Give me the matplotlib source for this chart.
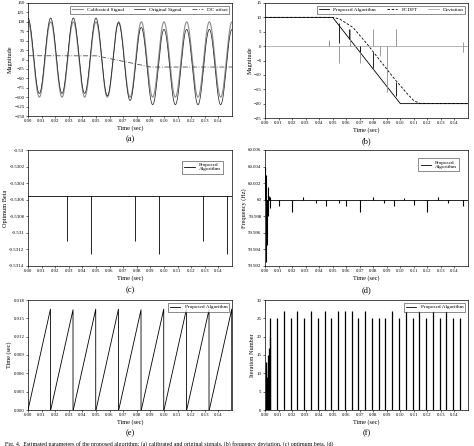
import matplotlib
matplotlib.use("Agg")
import matplotlib.pyplot as plt
import numpy as np

plt.rcParams['font.family'] = 'Liberation Serif'
plt.rcParams['font.size'] = 3.5

# (a) signal parameters
freq_hz = 60.0
amp_a = 100.0
dc_t = [0.00, 0.05, 0.09, 0.15]
dc_v = [10.0, 10.0, -20.0, -20.0]

# (b) frequency-step estimates
prop_t = [0.00, 0.05, 0.10, 0.15]
prop_v = [10, 10, -20, -20]
fcdft_t = [0.00, 0.05, 0.055, 0.065, 0.075, 0.085, 0.095, 0.105, 0.110, 0.115, 0.15]
fcdft_v = [10, 10, 9.5, 6.5, 1.0, -5.0, -11.0, -16.5, -19.0, -20, -20]
dev_t = [0.047, 0.047, 0.055, 0.063, 0.070, 0.080, 0.085, 0.090, 0.097, 0.146, 0.146]
dev_v = [2.0, 1.5, -6.0, 6.0, -6.0, 6.0, -3.5, -16.0, 6.0, 1.5, -2.0]
gap_t = [0.055, 0.062, 0.070, 0.080, 0.097]
gap_lo = [1.0, 2.5, -2.0, -7.5, -17.5]
gap_hi = [8.0, 6.0, 0.0, -2.0, -12.5]

# (c) optimum beta
beta_base = -0.53055
beta_t = [0.029, 0.046, 0.079, 0.096, 0.129, 0.146]
beta_v = [-0.5311, -0.53125, -0.5311, -0.53125, -0.5311, -0.53125]

# (d) frequency estimate
f_t = [0.000, 0.0005, 0.001, 0.0015, 0.002, 0.0025, 0.003, 0.0035, 0.004, 0.010, 0.020,
       0.028, 0.038, 0.045, 0.055, 0.060, 0.070, 0.080, 0.088, 0.095, 0.103, 0.110, 0.120,
       0.128, 0.135, 0.146]
f_v = [60.004, 59.9925, 60.003, 59.9945, 60.0015, 59.998, 60.0005, 59.999, 60.0003,
       59.9993, 59.9985, 60.0003, 59.9996, 59.9993, 59.9996, 59.9993, 59.9985, 60.0003,
       59.9996, 59.9993, 60.0002, 59.9994, 59.9985, 60.0003, 59.9996, 59.9993]

# (e) window time
reset_t = [0.0, 0.0167, 0.0333, 0.05, 0.0667, 0.0833, 0.1, 0.1167, 0.1333, 0.15]
win_peak = 0.0165

# (f) iteration number
it_t = [0.0005, 0.001, 0.0015, 0.002, 0.0025, 0.003, 0.0035, 0.004, 0.009, 0.014, 0.019,
        0.024, 0.029, 0.034, 0.039, 0.044, 0.049, 0.054, 0.059, 0.064, 0.069, 0.074, 0.079,
        0.084, 0.089, 0.094, 0.099, 0.104, 0.109, 0.114, 0.119, 0.124, 0.129, 0.134, 0.139,
        0.144]
it_v = [11, 13, 9, 13, 15, 17, 20, 25, 25, 27, 25, 27, 25, 27, 25, 27, 25, 27, 27, 27,
        25, 27, 25, 25, 25, 27, 25, 27, 25, 27, 25, 27, 25, 27, 25, 25]

fig = plt.figure(figsize=(4.74, 4.46), dpi=100)
W, H = 474, 446
def add(x0, y0, x1, y1):
    return fig.add_axes([x0 / W, 1 - y1 / H, (x1 - x0) / W, (y1 - y0) / H])

xt = np.arange(0, 0.1451, 0.01)
def style(ax, ylabel, letter):
    ax.set_xlim(0, 0.15)
    ax.set_xticks(xt)
    ax.set_xticklabels([f"{v:.2f}" for v in xt])
    ax.tick_params(length=1.5, width=0.4, pad=1)
    for s in ax.spines.values():
        s.set_linewidth(0.5)
    ax.set_xlabel("Time (sec)", fontsize=4.5, labelpad=1)
    ax.set_ylabel(ylabel, fontsize=4.5, labelpad=1)
    ax.text(0.5, -0.17, letter, transform=ax.transAxes, ha='center', va='top', fontsize=6)

# (a)
ax = add(28, 3, 232, 116)
t = np.linspace(0, 0.15, 1500)
dc = np.interp(t, dc_t, dc_v)
cal = amp_a * np.cos(2 * np.pi * freq_hz * t)
ax.plot(t, cal, color='0.55', lw=0.8, label='Calibrated Signal')
ax.plot(t, cal + dc, color='0.1', lw=0.5, label='Original Signal')
ax.plot(t, dc, color='0.3', lw=0.6, ls=(0, (6, 2, 1, 2)), label='DC offset')
ax.set_ylim(-150, 150)
ax.set_yticks(np.arange(-150, 151, 25))
style(ax, "Magnitude", "(a)")
ax.legend(loc='upper right', ncol=3, fontsize=3.8, frameon=True, fancybox=False,
          edgecolor='k', handlelength=2, borderpad=0.3).get_frame().set_linewidth(0.4)

# (b)
ax = add(265, 3, 468, 118)
ax.plot(prop_t, prop_v, color='k', lw=0.6, label='Proposed Algorithm')
ax.plot(fcdft_t, fcdft_v, color='k', lw=0.6, ls=(0, (3, 2)), label='FCDFT')
ax.plot([0, 0.15], [0, 0], color='0.6', lw=0.5, label='Deviation')
ax.vlines(dev_t, 0, dev_v, color='0.55', lw=0.6)
ax.vlines(gap_t, gap_lo, gap_hi, color='k', lw=0.6)
ax.set_ylim(-25, 15)
ax.set_yticks(np.arange(-25, 16, 5))
style(ax, "Magnitude", "(b)")
ax.legend(loc='upper right', ncol=3, fontsize=3.8, fancybox=False, edgecolor='k',
          handlelength=2, borderpad=0.3).get_frame().set_linewidth(0.4)

# (c)
ax = add(28, 150, 232, 266)
ax.plot([0, 0.15], [beta_base, beta_base], color='k', lw=0.6, label='Proposed\nAlgorithm')
ax.vlines(beta_t, beta_v, beta_base, color='k', lw=0.6)
ax.set_ylim(-0.5314, -0.53)
ax.set_yticks(np.arange(-0.5314, -0.52999, 0.0002))
ax.set_yticklabels([f"{v:.4f}".rstrip('0') for v in np.arange(-0.5314, -0.52999, 0.0002)])
style(ax, "Optimum Beta", "(c)")
ax.legend(loc='upper right', fontsize=3.8, fancybox=False, edgecolor='k',
          bbox_to_anchor=(0.97, 0.93)).get_frame().set_linewidth(0.4)

# (d)
ax = add(265, 150, 468, 266)
ax.plot([0, 0.15], [60, 60], color='k', lw=0.6, label='Proposed\nAlgorithm')
ax.vlines(f_t, 60, f_v, color='k', lw=0.8)
ax.set_ylim(59.992, 60.006)
yt = np.arange(59.992, 60.0061, 0.002)
ax.set_yticks(yt)
ax.set_yticklabels([f"{v:.3f}".rstrip('0').rstrip('.') for v in yt])
style(ax, "Frequency (Hz)", "(d)")
ax.legend(loc='upper right', fontsize=3.8, fancybox=False, edgecolor='k',
          bbox_to_anchor=(0.97, 0.95)).get_frame().set_linewidth(0.4)

# (e)
ax = add(28, 300, 232, 410)
for a, b in zip(reset_t[:-1], reset_t[1:]):
    ax.plot([a, b - 0.0002, b - 0.0002], [0, win_peak * (b - a) / 0.0167, 0], color='k', lw=0.6)
ax.plot([], [], color='k', lw=0.6, label='Proposed Algorithm')
ax.set_ylim(0, 0.018)
ax.set_yticks(np.arange(0, 0.0181, 0.003))
ax.set_yticklabels([f"{v:.3f}" for v in np.arange(0, 0.0181, 0.003)])
style(ax, "Time (sec)", "(e)")
ax.legend(loc='upper right', fontsize=3.8, fancybox=False, edgecolor='k',
          handlelength=2).get_frame().set_linewidth(0.4)

# (f)
ax = add(265, 300, 468, 410)
ax.vlines(it_t, 0, it_v, color='k', lw=0.9)
ax.plot([], [], color='k', lw=0.6, label='Proposed Algorithm')
ax.set_ylim(0, 30)
ax.set_yticks(np.arange(0, 31, 5))
style(ax, "Iteration Number", "(f)")
ax.legend(loc='upper right', fontsize=3.8, fancybox=False, edgecolor='k',
          handlelength=2).get_frame().set_linewidth(0.4)

fig.text(0.01, 0.001, "Fig. 4.  Estimated parameters of the proposed algorithm: (a) calibrated and original signals, (b) frequency deviation, (c) optimum beta, (d)",
         fontsize=4.2)

fig.savefig("out.png", dpi=100)
